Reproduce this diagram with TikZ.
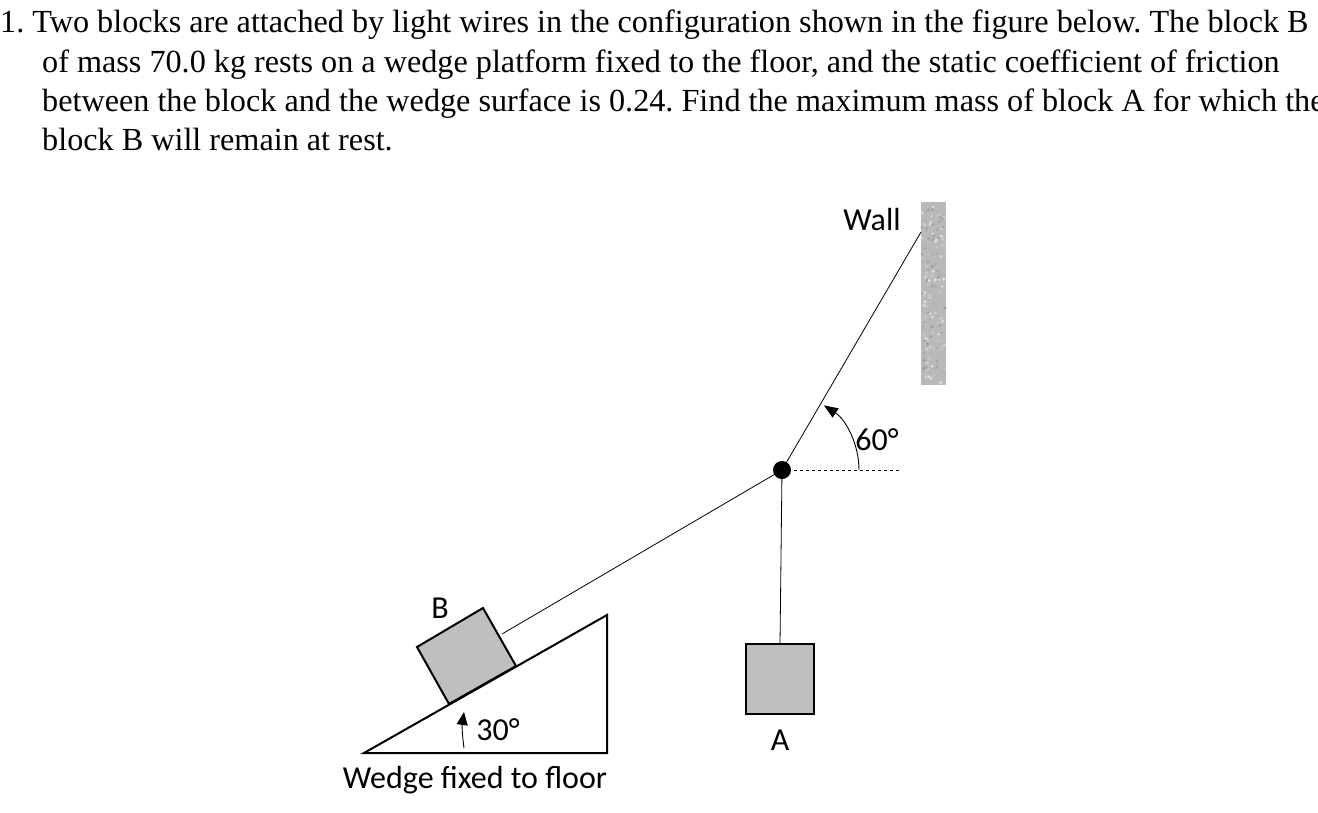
\documentclass[tikz,border=0pt]{standalone}
\usepackage{fontspec}
\setmainfont{Liberation Serif}
\newfontfamily\carfont{Carlito}
\usetikzlibrary{arrows.meta}
\frenchspacing
\begin{document}
\begin{tikzpicture}[x=1pt,y=-1pt,
  txt/.style={anchor=base west,inner sep=0pt,font=\fontsize{32.2}{34}\selectfont},
  lbl/.style={inner sep=0pt,font=\carfont\fontsize{32}{34}\selectfont},
  blk/.style={draw=black,line width=2pt,fill=gray!50},
  rope/.style={line width=0.8pt}]
\useasboundingbox (0,0) rectangle (1318,812);
\node[txt] (l1) at (0,32) {1. Two blocks are attached by light wires in the configuration shown in the figure below. The block B};
\node[txt] (l2) at (42,72) {of mass 70.0 kg rests on a wedge platform fixed to the floor, and the static coefficient of friction};
\node[txt] (l3) at (42,111) {between the block and the wedge surface is 0.24. Find the maximum mass of block A for which the};
\node[txt] (l4) at (42,150) {block B will remain at rest.};
% wedge
\draw[line width=2pt,line join=miter] (364,753) -- (607,753) -- (607,615) -- cycle;
% block B
\draw[blk] (417,647) -- (483,608) -- (516,666) -- (449,704) -- cycle;
\node[lbl] (B) at (440,608) {B};
% wall
\fill[gray!55] (921,202) rectangle (946,385);
\pgfmathsetseed{7}
\foreach \i in {1,...,160}{
  \pgfmathsetmacro\xx{922+23*rnd}\pgfmathsetmacro\yy{204+179*rnd}
  \pgfmathsetmacro\gg{int(20+60*rnd)}
  \fill[gray!\gg] (\xx,\yy) circle (1.6);
}
\coordinate (wt) at (921,232);
\node[lbl] (wall) at (872,220) {Wall};
% knot
\coordinate (k) at (782,470);
\coordinate (bt) at (502,634);
\draw[rope] (bt) -- (k);
\draw[rope] (k) -- (wt);
\draw[rope] (k) -- (780,644);
\draw[dashed,line width=0.8pt] (k) -- (900,470);
\fill (k) circle (9);
\draw[line width=0.9pt,-{Triangle[length=14pt,width=11pt]}] (782+77,470) arc[start angle=0,end angle=-57,radius=77];
\node[lbl] (a60) at (877,440) {60°};
% block A
\draw[blk] (746,644) rectangle (814,714);
\node[lbl] (A) at (780,740) {A};
% 30 deg
\draw[line width=0.9pt,-{Triangle[length=13pt,width=11pt]}] (464,748) to[bend left=8] (464,712);
\node[lbl] (a30) at (498,730) {30°};
\node[lbl] (w) at (475,780) {Wedge fixed to floor};
\end{tikzpicture}
\end{document}
